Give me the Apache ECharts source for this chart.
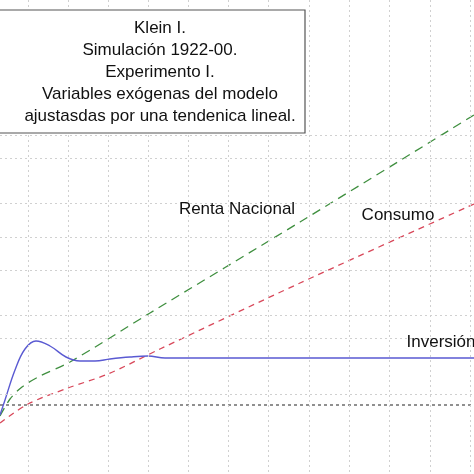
<!DOCTYPE html>
<html lang="es">
<head>
  <meta charset="UTF-8">
  <title>Klein I</title>
  <script src="https://cdn.jsdelivr.net/npm/echarts@6/dist/echarts.min.js"></script>
  <style>html,body{margin:0;padding:0;background:#fff}</style>
</head>
<body>
  <div id="main" style="width:474px;height:474px;"></div>
  <script type="text/javascript">
    // valores (escala del eje: 0..474, eje y invertido)
    var renta = [[0,416],[10,399],[22,387],[40,376],[70,362],[150,313],[300,222],[474,115]];
    var consumo = [[0,423],[28,404],[68,388],[108,374],[160,349],[300,283],[474,204]];
    var inversion = [[0,415],[5,400],[15,370],[25,349],[36,341],[50,346],[66,357],[80,361],[95,361],
                     [110,359],[130,357],[148,356],[165,358],[250,358],[474,358]];
    var cero = [[0,405],[474,405]];
    var gridX = [28,68,108,148,188,228,268,309,349,389,430,470];
    var gridY = [135,158,203,237,270,315,338,394];
    var titulo = ['Klein I.', 'Simulación 1922-00.', 'Experimento I.',
                  'Variables exógenas del modelo', 'ajustasdas por una tendenica lineal.'];
    var etiquetas = [['Renta Nacional',237,209],['Consumo',398,215],['Inversión',441,342]];

    var myChart = echarts.init(document.getElementById('main'));
    var gris = {color:'#d0d0d0', type:[2,3], width:1};
    var fuente = '17px "Liberation Sans", Arial';
    var option = {
      animation: false,
      backgroundColor: '#fff',
      grid: {left:0, right:0, top:0, bottom:0},
      xAxis: {type:'value', min:0, max:474, show:false},
      yAxis: {type:'value', min:0, max:474, inverse:true, show:false},
      series: [
        {
          type:'line', data:[], silent:true,
          markLine: {
            symbol:'none', silent:true, label:{show:false},
            lineStyle: gris,
            data: gridX.map(function(v){return {xAxis:v};}).concat(gridY.map(function(v){return {yAxis:v};}))
          }
        },
        {type:'line', data:cero, symbol:'none', lineStyle:{color:'#222', type:[3,3], width:1}},
        {type:'line', data:consumo, symbol:'none', smooth:0.3, lineStyle:{color:'#d8485a', type:[6,5], width:1.3}},
        {type:'line', data:renta, symbol:'none', smooth:0.3, lineStyle:{color:'#3f8f3f', type:[9,6], width:1.3}},
        {type:'line', data:inversion, symbol:'none', smooth:0.4, lineStyle:{color:'#5a5ad2', width:1.4}}
      ],
      graphic: [
        {type:'rect', shape:{x:-5, y:10, width:310, height:123}, style:{fill:'#fff', stroke:'#555', lineWidth:1.2}, z:10}
      ].concat(titulo.map(function(t,i){
        return {type:'text', x:160, y:28+i*22, z:11,
                style:{text:t, fill:'#111', font:fuente, textAlign:'center', textVerticalAlign:'middle'}};
      })).concat(etiquetas.map(function(e){
        return {type:'text', x:e[1], y:e[2], z:11,
                style:{text:e[0], fill:'#111', font:fuente, textAlign:'center', textVerticalAlign:'middle'}};
      }))
    };
    myChart.setOption(option, true);
  </script>
</body>
</html>
